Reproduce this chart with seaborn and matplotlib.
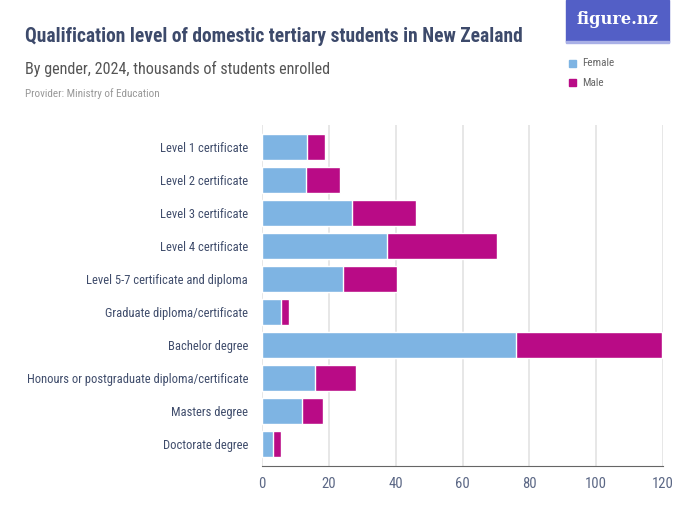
import matplotlib
matplotlib.use("Agg")
import matplotlib.pyplot as plt
from matplotlib.patches import Rectangle
from matplotlib import font_manager
import seaborn as sns
import pandas as pd

# data, thousands of students enrolled (2024)
categories = ["Level 1 certificate", "Level 2 certificate", "Level 3 certificate",
              "Level 4 certificate", "Level 5-7 certificate and diploma",
              "Graduate diploma/certificate", "Bachelor degree",
              "Honours or postgraduate diploma/certificate", "Masters degree",
              "Doctorate degree"]
female = [13.5, 13.2, 27.0, 37.3, 24.1, 5.6, 75.9, 16.0, 11.9, 3.4]
male = [5.5, 10.1, 19.1, 33.1, 16.2, 2.4, 43.9, 12.1, 6.3, 2.2]
x_ticks = [0, 20, 40, 60, 80, 100, 120]

c_female = "#7eb4e3"
c_male = "#b90b86"

sns.set_style("white")
names = {f.name for f in font_manager.fontManager.ttflist}
fam = [n for n in ["Roboto Condensed", "Liberation Sans Narrow", "DejaVu Sans Condensed",
                   "Roboto"] if n in names] + ["DejaVu Sans"]
plt.rcParams['font.family'] = fam

df = pd.DataFrame({"cat": categories, "female": female, "male": male})
df["total"] = df.female + df.male

fig = plt.figure(figsize=(7, 5.25), dpi=100)
ax = fig.add_axes([262/700, 59/525, 401/700, 341/525])

sns.barplot(data=df, x="total", y="cat", color=c_male, width=0.78,
            saturation=1, ax=ax, zorder=2)
sns.barplot(data=df, x="female", y="cat", color=c_female, width=0.78,
            saturation=1, ax=ax, zorder=3)

ax.set_xlim(0, 120)
ax.set_ylim(len(categories) - 0.33, -0.67)
ax.set_xticks(x_ticks)
ax.set_xlabel("")
ax.set_ylabel("")
ax.xaxis.grid(True, color="#e3e3e3", linewidth=1.2, zorder=0)
ax.set_axisbelow(True)
for s in ["top", "right", "left"]:
    ax.spines[s].set_visible(False)
ax.spines["bottom"].set_color("#666666")
ax.tick_params(axis="x", colors="#666666", labelcolor="#5b6785", labelsize=10.5,
               length=5, width=1, direction="out", pad=3)
ax.tick_params(axis="y", length=0, labelcolor="#3f4c6b", labelsize=9, pad=10)

# header
t1 = fig.text(25/700, 1 - 37/525, "Qualification level of domestic tertiary students in New Zealand",
              fontsize=14, fontweight="semibold", color="#3d4a6b", va="center")
t2 = fig.text(25/700, 1 - 69/525, "By gender, 2024, thousands of students enrolled",
              fontsize=12, color="#555555", va="center")
t3 = fig.text(25/700, 1 - 94/525, "Provider: Ministry of Education",
              fontsize=8, color="#999999", va="center")

# logo
fig.patches.append(Rectangle((566/700, 1 - 42/525), 103/700, 42/525,
                             transform=fig.transFigure, color="#535fc6", zorder=1))
fig.patches.append(Rectangle((566/700, 1 - 43/525), 103/700, 1.5/525,
                             transform=fig.transFigure, color="#a9b0e6", zorder=1))
t4 = fig.text(617/700, 1 - 20/525, "figure.nz", fontsize=15, color="white",
              family=["DejaVu Serif"], fontweight="bold", ha="center", va="center")

# legend
for i, (lab, col) in enumerate([("Female", c_female), ("Male", c_male)]):
    y = 1 - (63 + 19.5 * i) / 525
    fig.patches.append(Rectangle((569/700, y - 3.5/525), 7/700, 7/525,
                                 transform=fig.transFigure, color=col))
    fig.text(582/700, y, lab, fontsize=8, color="#666666", va="center")

# size header texts to the widths seen in the reference
fig.canvas.draw()
r = fig.canvas.get_renderer()
for t, w in [(t1, 500), (t2, 305), (t3, 135), (t4, 82)]:
    cur = t.get_window_extent(r).width
    t.set_fontsize(min(t.get_fontsize() * w / cur, 17))

fig.savefig("out.png", dpi=100)
